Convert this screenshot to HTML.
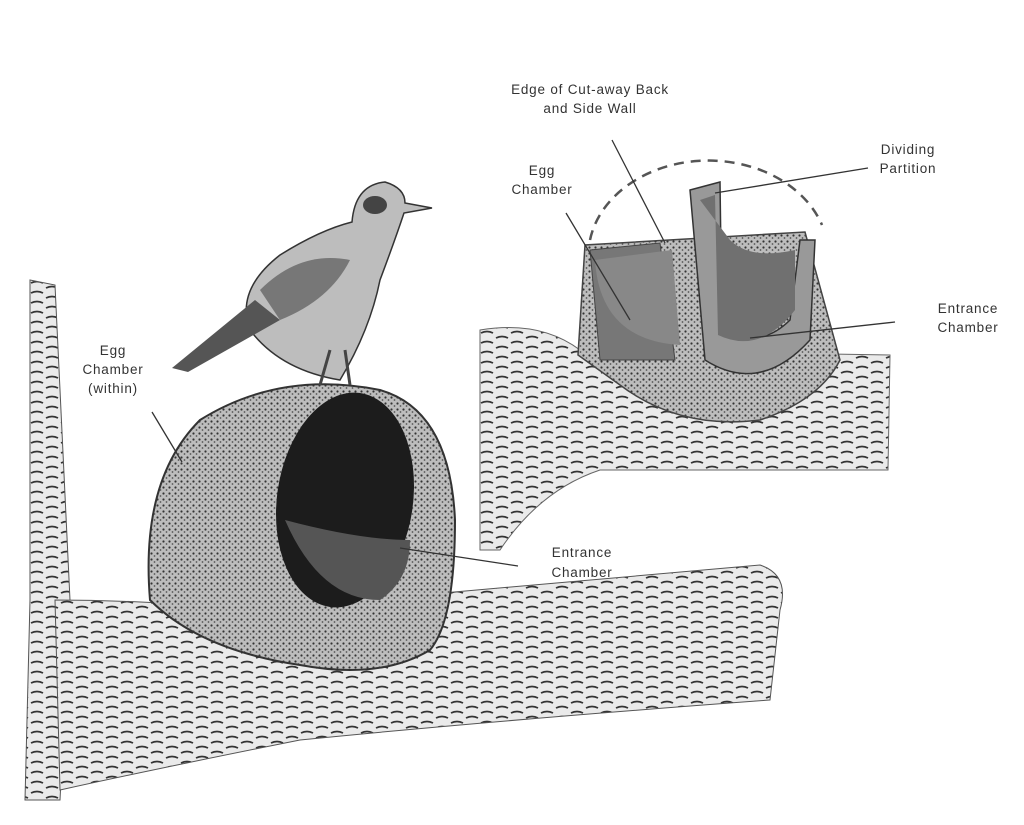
<!DOCTYPE html>
<html><head><meta charset="utf-8"><style>
html,body{margin:0;padding:0;background:#fff;}
svg{display:block}
text{font-family:"Liberation Sans",sans-serif;font-size:13.5px;fill:#333;letter-spacing:0.8px;text-anchor:middle}
</style></head><body>
<svg width="1024" height="825" viewBox="0 0 1024 825">
<defs>
<pattern id="bark" width="30" height="10" patternUnits="userSpaceOnUse">
<rect width="30" height="10" fill="#eaeaea"/>
<path d="M1 3 q6 -3 12 0 M16 8 q6 -3 12 0" stroke="#333" stroke-width="1.8" fill="none"/>
</pattern>
<pattern id="speck" width="6" height="6" patternUnits="userSpaceOnUse">
<rect width="6" height="6" fill="#bdbdbd"/>
<circle cx="1.5" cy="1.5" r="1.1" fill="#333"/><circle cx="4.5" cy="4" r="0.9" fill="#555"/>
</pattern>
</defs>

<!-- Right inset branch -->
<path d="M480 330 Q540 320 580 350 L890 355 L888 470 Q700 470 600 470 Q540 490 500 550 L480 550 Z" fill="url(#bark)" stroke="#666" stroke-width="1"/>
<path d="M590 240 A120 95 0 0 1 822 225" fill="none" stroke="#555" stroke-width="2.5" stroke-dasharray="10,7"/>
<path d="M578 355 L585 245 L805 232 L840 360 Q820 400 760 420 Q680 430 620 385 Z" fill="url(#speck)" stroke="#444" stroke-width="1.5"/>
<path d="M590 250 L660 243 L675 360 L600 360 Z" fill="#777" stroke="#444"/>
<path d="M690 190 L720 182 L722 330 Q760 350 790 320 L800 240 L815 240 L810 340 Q760 395 705 360 Z" fill="#999" stroke="#333" stroke-width="1.5"/>
<path d="M700 200 L715 195 L718 335 Q760 355 795 310 L795 250 Q750 260 730 240 Z" fill="#707070"/>
<path d="M595 260 Q600 340 680 345 L672 250 Z" fill="#888"/>

<!-- Left trunk -->
<path d="M30 280 L55 285 L70 600 L60 800 L25 800 L30 600 Z" fill="url(#bark)" stroke="#555"/>
<!-- Left branch -->
<path d="M55 600 Q150 600 250 610 L760 565 Q790 575 780 610 L770 700 Q500 720 300 740 Q150 770 60 790 Z" fill="url(#bark)" stroke="#555" stroke-width="1"/>
<!-- Nest -->
<path d="M150 600 Q140 480 200 420 Q280 370 380 390 Q450 410 455 520 Q455 620 430 650 Q380 680 300 665 Q200 650 150 600 Z" fill="url(#speck)" stroke="#333" stroke-width="2"/>
<ellipse cx="345" cy="500" rx="68" ry="108" fill="#1c1c1c" transform="rotate(8 345 500)"/>
<path d="M285 520 Q320 600 380 600 Q410 580 410 540 Q360 540 285 520Z" fill="#555"/>

<!-- Bird -->
<path d="M340 380 Q280 370 250 330 Q235 290 280 255 Q320 230 352 222 Q355 185 385 182 Q405 188 405 203 L432 208 L404 213 Q395 240 380 280 Q370 330 340 380 Z" fill="#bdbdbd" stroke="#333" stroke-width="1.5"/>
<path d="M255 300 L172 368 L188 372 L280 320 Z" fill="#555"/>
<path d="M260 290 Q300 250 350 260 Q330 300 280 320 Z" fill="#777"/>
<ellipse cx="375" cy="205" rx="12" ry="9" fill="#444"/>
<path d="M330 350 L320 385 M345 350 L350 385" stroke="#444" stroke-width="3"/>

<g stroke="#333" stroke-width="1.3">
<line x1="612" y1="140" x2="665" y2="243"/>
<line x1="566" y1="213" x2="630" y2="320"/>
<line x1="868" y1="168" x2="715" y2="193"/>
<line x1="895" y1="322" x2="750" y2="338"/>
<line x1="152" y1="412" x2="182" y2="462"/>
<line x1="518" y1="566" x2="400" y2="548"/>
</g>

<text x="590" y="94">Edge of Cut-away Back</text>
<text x="590" y="113">and Side Wall</text>
<text x="542" y="175">Egg</text>
<text x="542" y="194">Chamber</text>
<text x="908" y="154">Dividing</text>
<text x="908" y="173">Partition</text>
<text x="968" y="313">Entrance</text>
<text x="968" y="332">Chamber</text>
<text x="113" y="355">Egg</text>
<text x="113" y="374">Chamber</text>
<text x="113" y="393">(within)</text>
<text x="582" y="557">Entrance</text>
<text x="582" y="577">Chamber</text>
</svg>
</body></html>
